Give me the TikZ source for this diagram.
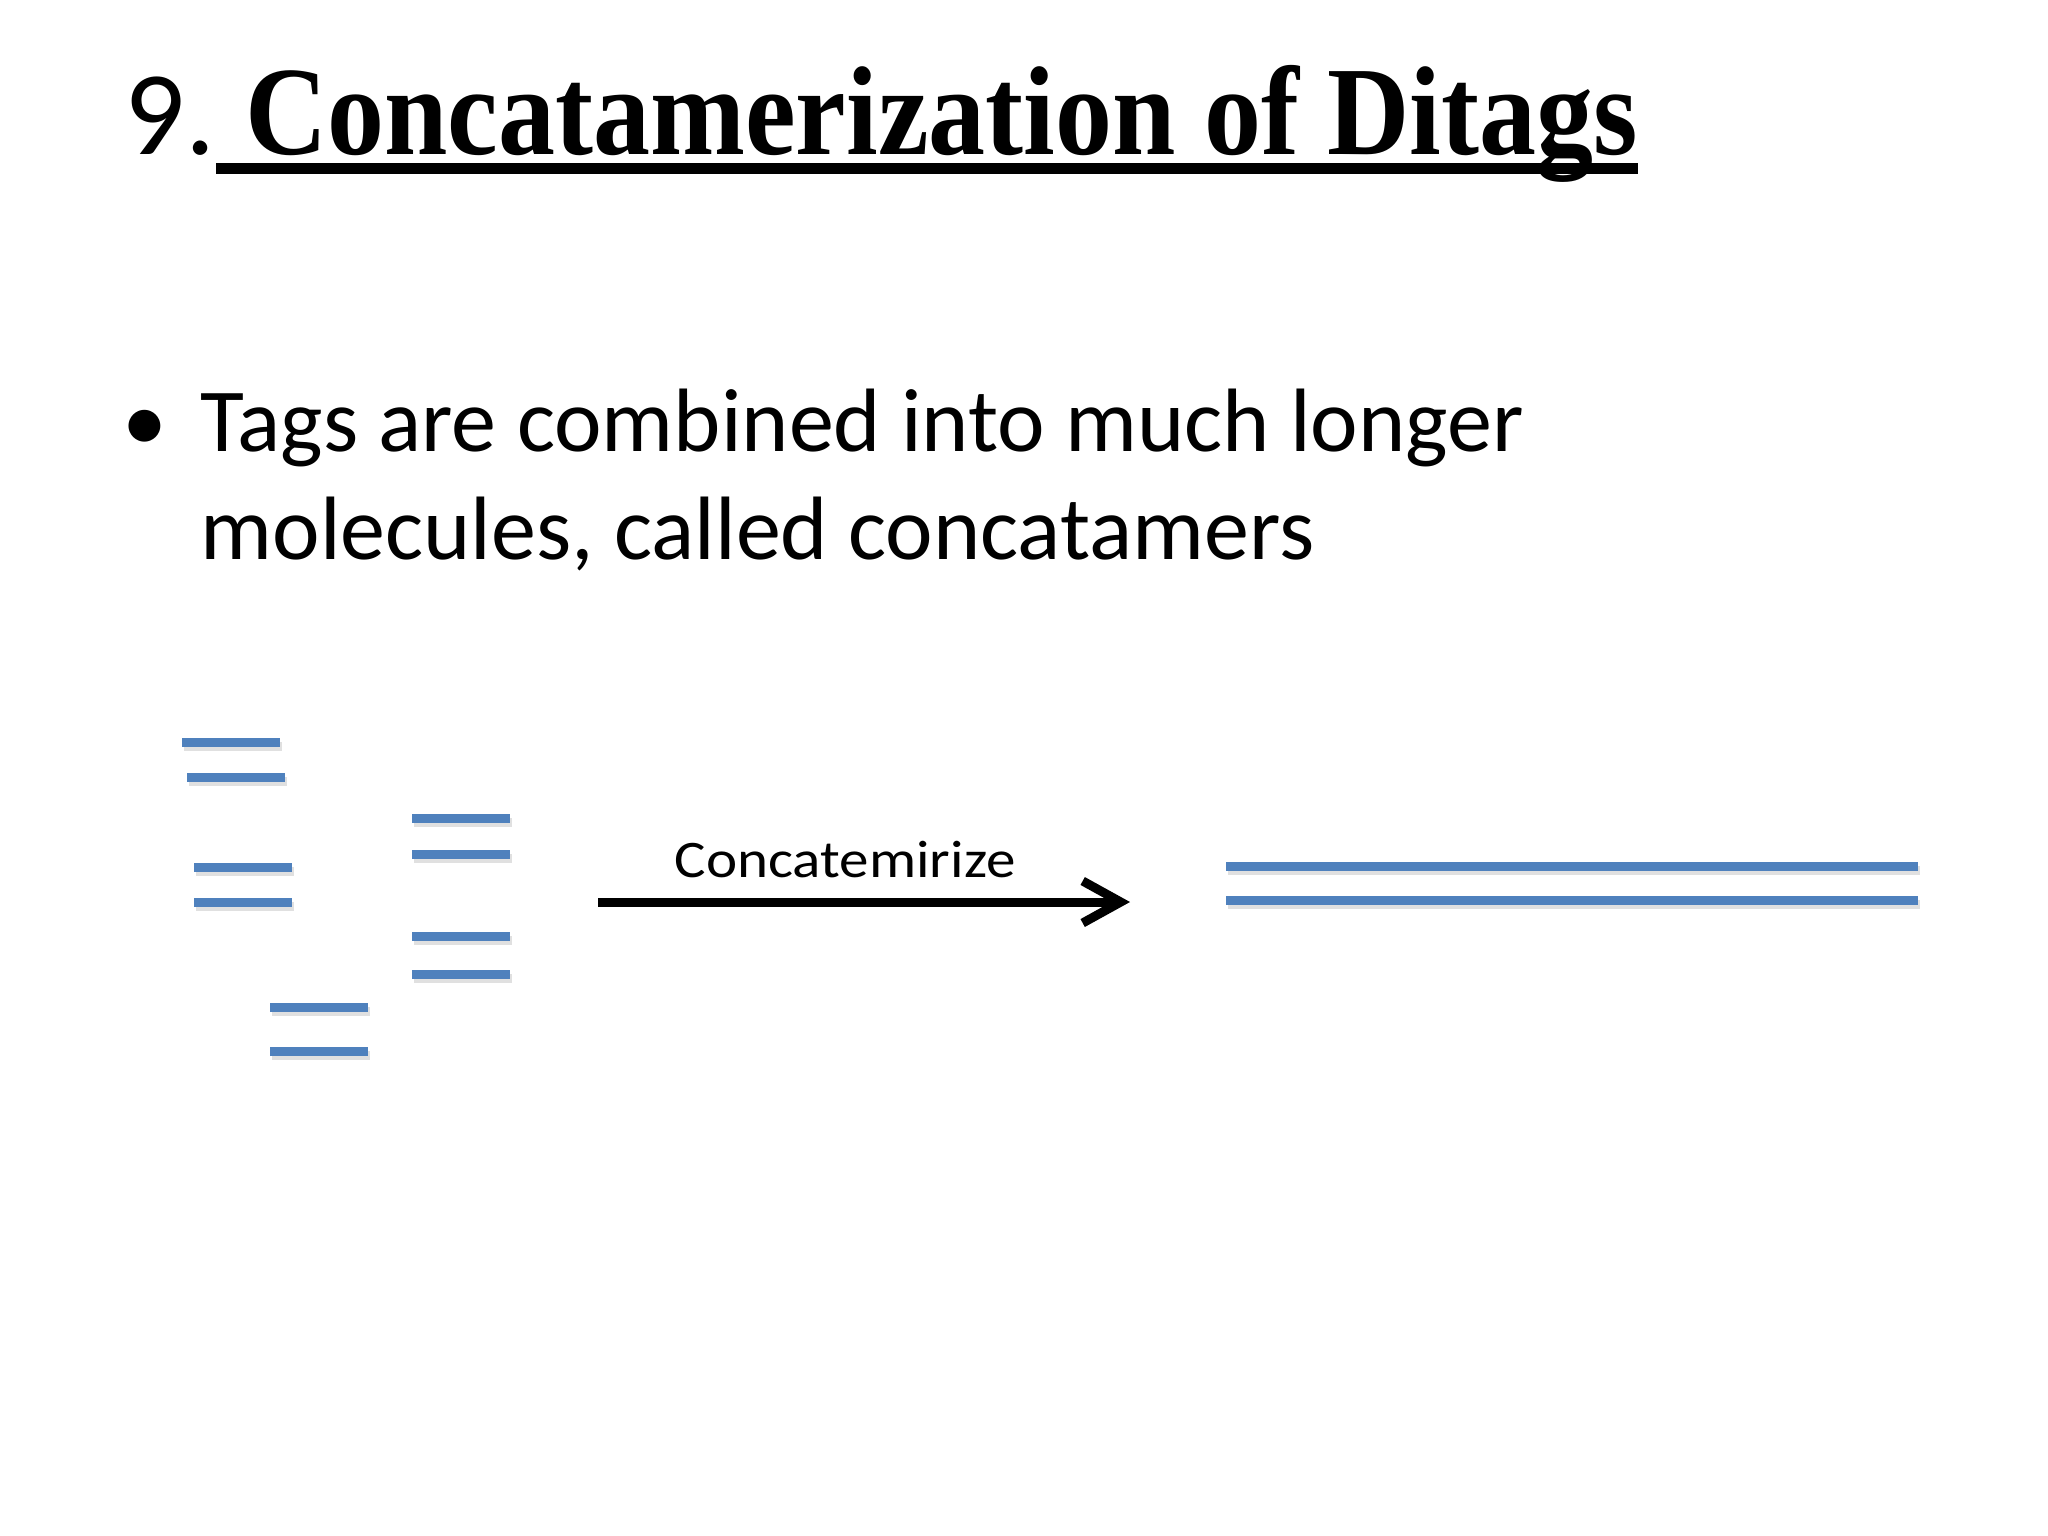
\documentclass[tikz,border=0pt]{standalone}
\usepackage{fontspec}
\setmainfont{Carlito}
\newfontfamily\titlefont[FakeStretch=0.9]{Liberation Serif}
\newfontfamily\labelfont[FakeStretch=1.12]{Carlito}
\usetikzlibrary{arrows.meta, positioning}

\definecolor{tagblue}{RGB}{79,129,189}
\tikzset{
  tagline/.style={tagblue, line width=0.09cm},
  tagshadow/.style={black!40, opacity=0.3, line width=0.09cm},
  bodytext/.style={anchor=base west, inner sep=0pt, font=\fontsize{25.6}{30}\selectfont},
}

\begin{document}
\begin{tikzpicture}[x=0.01cm, y=-0.01cm]
\useasboundingbox[fill=white] (0,0) rectangle (2048,1536);
% Title
\node[anchor=base west, inner sep=0pt, font=\fontsize{34}{40}\selectfont] (titlenum) at (124,154) {9.};
\node[anchor=base west, inner sep=0pt, font=\titlefont\bfseries\fontsize{36}{42}\selectfont] (titletext) at (titlenum.base east) {\ Concatamerization of Ditags};
\draw[line width=0.11cm] (titletext.base west) ++(0,14) coordinate (ulstart) -- (titletext.base east |- ulstart);
% Bullet
\node[bodytext] (bullet) at (122,451) {•};
\node[bodytext] (lineone) at (200,451) {Tags are combined into much longer};
\node[bodytext] (linetwo) at (200,559) {molecules, called concatamers};
% Single ditags
\foreach \xa/\xb/\y in {182/280/742, 187/285/777, 194/292/867, 194/292/902,
                        270/368/1007, 270/368/1051, 412/510/818, 412/510/854,
                        412/510/936, 412/510/974, 1226/1918/866, 1226/1918/900} {
  \draw[tagshadow] (\xa+2,\y+4) -- (\xb+2,\y+4);
  \draw[tagline] (\xa,\y) -- (\xb,\y);
}
% Arrow
\coordinate (arrowtail) at (598,902);
\coordinate (arrowtip) at (1130,902);
\draw[line width=0.09cm, -{Straight Barb[length=0.38cm, width=0.42cm]}] (arrowtail) -- (arrowtip);
\node[anchor=base west, inner sep=0pt, font=\labelfont\fontsize{15}{18}\selectfont] (concatlabel) at (674,877) {Concatemirize};
\end{tikzpicture}
\end{document}
